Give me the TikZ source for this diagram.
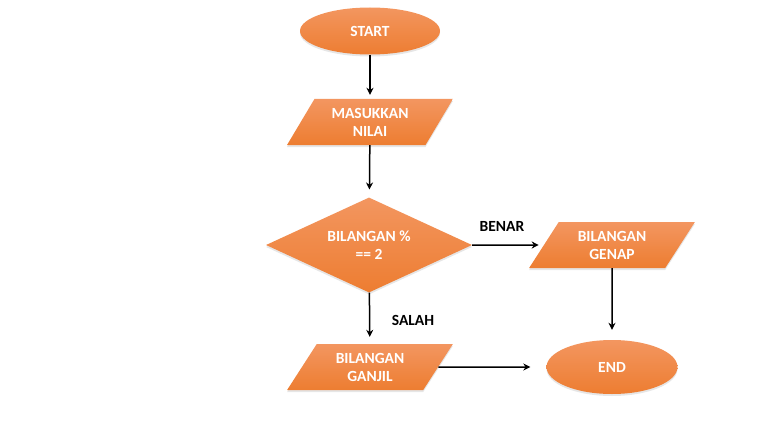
\documentclass[tikz,border=0pt]{standalone}
\usepackage{fontspec}
\setmainfont{Carlito}
\usetikzlibrary{shapes.geometric,shadows,arrows.meta}

\definecolor{boxorange}{RGB}{237,125,49}
\definecolor{boxlight}{RGB}{243,150,96}

\begin{document}
\begin{tikzpicture}[x=1pt,y=-1pt,
  box/.style={top color=boxlight, bottom color=boxorange, draw=none, text=white,
    font=\fontsize{15.5}{18}\selectfont\bfseries, align=center,
    drop shadow={shadow xshift=0pt, shadow yshift=-2pt, opacity=0.2}},
  terminal/.style={box, ellipse, minimum width=140pt, minimum height=47pt, inner sep=0pt},
  io/.style={box, trapezium, trapezium left angle=56, trapezium right angle=124,
    trapezium stretches=true, minimum width=166pt, minimum height=46pt, inner sep=0pt},
  decision/.style={box, diamond, aspect=2.2, minimum width=206pt, minimum height=95pt, inner sep=0pt},
  arrow/.style={-{Stealth[length=7pt,width=7pt]}, line width=1.5pt, shorten >=5pt},
  branch/.style={font=\fontsize{15.5}{18}\selectfont\bfseries}]
  \useasboundingbox (0,0) rectangle (768,433);

  % Shapes
  \node[terminal] (start) at (370,31) {START};
  \node[io] (masuk) at (370,122) {MASUKKAN\\NILAI};
  \node[decision] (cek) at (369,245) {BILANGAN \%\\== 2};
  \node[io] (genap) at (612,245) {BILANGAN\\GENAP};
  \node[io] (ganjil) at (370,367) {BILANGAN\\GANJIL};
  \node[terminal, minimum width=131pt, minimum height=54pt] (end) at (612,367) {END};

  % Labels
  \node[branch] (benar) at (502,226) {BENAR};
  \node[branch] (salah) at (413,320) {SALAH};

  % Arrows
  \draw[arrow, shorten >=4pt] (start) -- (masuk);
  \draw[arrow, shorten >=8pt] (masuk) -- (cek);
  \draw[arrow] (cek) -- (genap);
  \draw[arrow, shorten >=7pt] (cek) -- (ganjil);
  \draw[arrow, shorten >=10pt] (genap) -- (end);
  \draw[arrow, shorten >=16pt] (ganjil) -- (end);
\end{tikzpicture}
\end{document}
